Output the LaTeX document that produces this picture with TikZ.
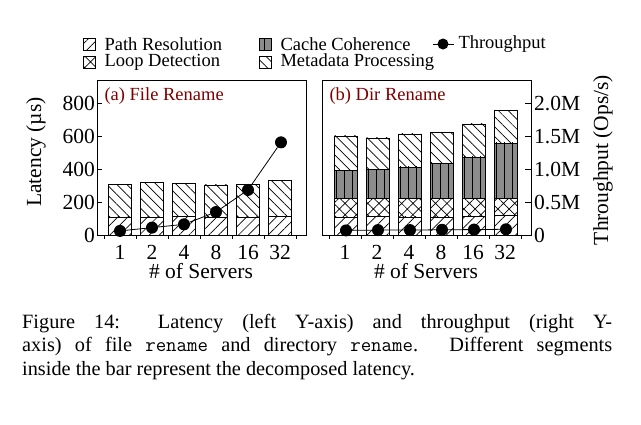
\documentclass[tikz,border=0pt]{standalone}
\usepackage{fontspec}
\setmainfont{Liberation Serif}
\usetikzlibrary{patterns.meta}
\begin{document}
\begin{tikzpicture}[x=1pt,y=-1pt,
  pr/.style={draw,line width=0.8pt,pattern={Lines[angle=45,distance=7pt,line width=0.7pt]}},
  ld/.style={draw,line width=0.8pt,pattern={Hatch[angle=45,distance=8pt,line width=0.7pt]}},
  cc/.style={draw,line width=0.8pt,fill=gray!90,postaction={pattern={Lines[angle=90,distance=8pt,line width=0.7pt]}}},
  mp/.style={draw,line width=0.8pt,pattern={Lines[angle=-45,distance=7pt,line width=0.7pt]}},
  dot/.style={circle,fill=black,inner sep=0pt,minimum size=12pt},
  lab/.style={font=\fontsize{18.5}{20}\selectfont},
  tl/.style={font=\fontsize{21.5}{23}\selectfont},
  ttl/.style={font=\fontsize{18.5}{20}\selectfont,text=red!50!black}]
\useasboundingbox (0,0) rectangle (641,424);
% legend
\draw[pr] (83,38) rectangle (95,50); \node[lab,anchor=west] (l1) at (101,44) {Path Resolution};
\draw[ld] (83,56) rectangle (95,68); \node[lab,anchor=west] (l2) at (101,62) {Loop Detection};
\draw[cc] (259,38) rectangle (271,50); \node[lab,anchor=west] (l3) at (277,44) {Cache Coherence};
\draw[mp] (259,56) rectangle (271,68); \node[lab,anchor=west] (l4) at (277,62) {Metadata Processing};
\draw[line width=0.8pt] (433,44) -- (454,44); \node[dot,minimum size=11pt] (ld0) at (443,44) {};
\node[lab,anchor=west] (l5) at (455,44) {Throughput};
% panels
\foreach \x/\t/\n in {97/{(a) File Rename}/a, 322/{(b) Dir Rename}/b}{
  \draw[line width=0.8pt] (\x,80) rectangle (\x+209,235);
  \node[ttl,anchor=west] (t\n) at (\x+4,96) {\t};
  \foreach \i/\s in {0/1,1/2,2/4,3/8,4/16,5/32}{
    \node[tl,inner sep=0pt] (x\n\i) at (\x+23+32*\i,252) {\s};
    \draw[line width=0.8pt] (\x+7+32*\i,235) -- (\x+7+32*\i,239);
  }
  \draw[line width=0.8pt] (\x+199,235) -- (\x+199,239);
  \node[tl,inner sep=0pt] (xl\n) at (\x+104,271) {\# of Servers};
}
% left axis
\foreach \v in {0,200,400,600,800}{
  \draw[line width=0.8pt] (97,235-0.164*\v) -- (102,235-0.164*\v);
  \node[tl,anchor=east,inner sep=1pt] (yl\v) at (96,235-0.164*\v) {\v};
}
\node[tl,rotate=90] (ylab) at (36,152) {Latency (µs)};
% right axis
\foreach \v/\s in {0/0,1/0.5M,2/1.0M,3/1.5M,4/2.0M}{
  \draw[line width=0.8pt] (525,235-32.8*\v) -- (531,235-32.8*\v);
  \node[tl,anchor=west,inner sep=1pt] (yr\v) at (533,235-32.8*\v) {\s};
}
\node[tl,rotate=90] (yrlab) at (603,160) {Throughput (Ops/s)};
% bars
\begin{scope}[shift={(0,235)},y=0.164pt]
\foreach \i/\p/\tp in {0/110/310,1/110/318,2/115/315,3/110/305,4/110/310,5/115/335}{
  \draw[pr] (108.5+32*\i,0) rectangle (131.5+32*\i,\p);
  \draw[mp] (108.5+32*\i,\p) rectangle (131.5+32*\i,\tp);
}
\foreach \i/\p/\l/\c/\tp in {0/105/225/396/604,1/115/225/402/592,2/110/225/415/616,3/110/225/439/628,4/115/225/476/677,5/120/225/561/762}{
  \draw[pr] (334.5+32*\i,0) rectangle (357.5+32*\i,\p);
  \draw[ld] (334.5+32*\i,\p) rectangle (357.5+32*\i,\l);
  \draw[cc] (334.5+32*\i,\l) rectangle (357.5+32*\i,\c);
  \draw[mp] (334.5+32*\i,\c) rectangle (357.5+32*\i,\tp);
}
\node[dot] (a0) at (120,25) {};
\node[dot] (a1) at (152,45) {};
\node[dot] (a2) at (184,65) {};
\node[dot] (a3) at (216,140) {};
\node[dot] (a4) at (248,275) {};
\node[dot] (a5) at (281,565) {};
\draw[line width=0.8pt] (a0)--(a1)--(a2)--(a3)--(a4)--(a5);
\node[dot] (b0) at (346,28) {};
\node[dot] (b1) at (378,30) {};
\node[dot] (b2) at (410,30) {};
\node[dot] (b3) at (442,32) {};
\node[dot] (b4) at (474,33) {};
\node[dot] (b5) at (506,35) {};
\draw[line width=0.8pt] (b0)--(b1)--(b2)--(b3)--(b4)--(b5);
\end{scope}
% caption
\node[anchor=north west,inner sep=0pt,font=\fontsize{20.3}{23.5}\selectfont,text width=590pt,align=justify] (cap) at (22,314)
{Figure 14:\ \ Latency (left Y-axis) and throughput (right Y-\linebreak axis) of file \texttt{rename} and directory \texttt{rename}. Different segments\linebreak inside the bar represent the decomposed latency.};
\end{tikzpicture}
\end{document}
